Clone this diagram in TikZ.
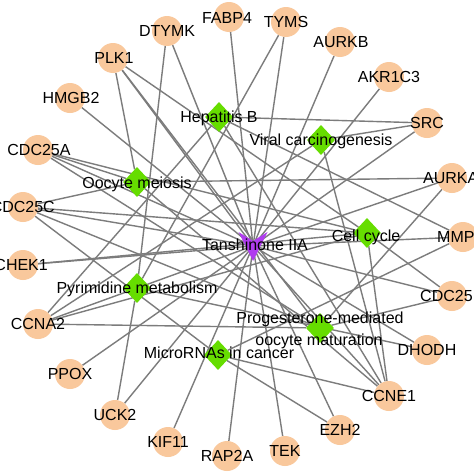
\documentclass[tikz,border=0pt]{standalone}
\usepackage{fontspec}
\setmainfont{Liberation Sans}
\usetikzlibrary{shapes.geometric,backgrounds}
\definecolor{genec}{HTML}{F9C89C}
\definecolor{pathc}{HTML}{66DD00}
\definecolor{drugc}{HTML}{B03CF0}
\definecolor{edgec}{HTML}{7C7C7C}
\begin{document}
\begin{tikzpicture}[x=1pt,y=-1pt,
  genenode/.style={circle,fill=genec,minimum size=30pt,inner sep=0pt},
  pathnode/.style={diamond,fill=pathc,minimum width=28pt,minimum height=30pt,inner sep=0pt},
  lbl/.style={font=\fontsize{16}{20}\selectfont,text=black,inner sep=0pt,anchor=base},
  link/.style={draw=edgec,line width=1.4pt}]
\useasboundingbox (0,0) rectangle (474,474);
% genes
\node[genenode] (dtymk) at (167,31) {};
\node[genenode] (fabp4) at (229,17) {};
\node[genenode] (tyms) at (286,22) {};
\node[genenode] (aurkb) at (340,42) {};
\node[genenode] (akr1c3) at (389,77) {};
\node[genenode] (src) at (427,123) {};
\node[genenode] (aurka) at (452,178) {};
\node[genenode] (mmp) at (463,237) {};
\node[genenode] (cdc25b) at (452,296) {};
\node[genenode] (dhodh) at (427,350) {};
\node[genenode] (ccne1) at (389,396) {};
\node[genenode] (ezh2) at (340,430) {};
\node[genenode] (tek) at (285,451) {};
\node[genenode] (rap2a) at (227,456) {};
\node[genenode] (kif11) at (168,442) {};
\node[genenode] (uck2) at (115,415) {};
\node[genenode] (ppox) at (70,374) {};
\node[genenode] (ccna2) at (38,324) {};
\node[genenode] (chek1) at (23,265) {};
\node[genenode] (cdc25c) at (23,207) {};
\node[genenode] (cdc25a) at (38,150) {};
\node[genenode] (hmgb2) at (70,98) {};
\node[genenode] (plk1) at (113,58) {};
% pathways
\node[pathnode] (hepb) at (219,117) {};
\node[pathnode] (viral) at (321,140) {};
\node[pathnode] (oocyte) at (137,182) {};
\node[pathnode] (cellc) at (367,233) {};
\node[pathnode] (pyrim) at (137,288) {};
\node[pathnode] (proges) at (320,328) {};
\node[pathnode] (mirna) at (218,355) {};
% drug
\coordinate (tan) at (253,246);
\fill[drugc] ([shift={(-14.5,-14)}]tan) -- ([shift={(0,-5)}]tan) -- ([shift={(14.5,-14)}]tan) -- ([shift={(0,15)}]tan) -- cycle;
% edges
\begin{pgfonlayer}{background}
\fill[white] (0,0) rectangle (474,474);
\foreach \g in {dtymk,fabp4,tyms,aurkb,akr1c3,src,aurka,mmp,cdc25b,dhodh,ccne1,ezh2,tek,rap2a,kif11,uck2,ppox,ccna2,chek1,cdc25c,cdc25a,hmgb2,plk1}
  \draw[link] (tan) -- (\g);
\foreach \g in {plk1,cdc25a,cdc25c,chek1,ccna2,ccne1,cdc25b}
  \draw[link] (cellc) -- (\g);
\foreach \g in {plk1,cdc25a,cdc25c,aurka,ccne1}
  \draw[link] (oocyte) -- (\g);
\foreach \g in {plk1,cdc25a,cdc25b,cdc25c,ccna2,aurka}
  \draw[link] (proges) -- (\g);
\foreach \g in {dtymk,tyms,uck2,dhodh}
  \draw[link] (pyrim) -- (\g);
\foreach \g in {src,ccna2,ccne1,mmp}
  \draw[link] (hepb) -- (\g);
\foreach \g in {src,ccna2,ccne1}
  \draw[link] (viral) -- (\g);
\foreach \g in {ezh2,ccne1,cdc25c,mmp}
  \draw[link] (mirna) -- (\g);
\end{pgfonlayer}
% labels
\node[lbl] (l-dtymk) at (167,36.8) {DTYMK};
\node[lbl] (l-fabp4) at (227,23.8) {FABP4};
\node[lbl] (l-tyms) at (286,27.8) {TYMS};
\node[lbl] (l-aurkb) at (341,47.8) {AURKB};
\node[lbl] (l-akr1c3) at (389,82.8) {AKR1C3};
\node[lbl] (l-src) at (427,128.8) {SRC};
\node[lbl,anchor=base west] (l-aurka) at (423,183.8) {AURKA};
\node[lbl,anchor=base west] (l-mmp) at (437,242.8) {MMP};
\node[lbl,anchor=base west] (l-cdc25b) at (420,301.8) {CDC25};
\node[lbl] (l-dhodh) at (427,355.8) {DHODH};
\node[lbl] (l-ccne1) at (389,401.8) {CCNE1};
\node[lbl] (l-ezh2) at (340,435.8) {EZH2};
\node[lbl] (l-tek) at (285,456.8) {TEK};
\node[lbl] (l-rap2a) at (227,461.8) {RAP2A};
\node[lbl] (l-kif11) at (168,447.8) {KIF11};
\node[lbl] (l-uck2) at (115,420.8) {UCK2};
\node[lbl] (l-ppox) at (70,379.8) {PPOX};
\node[lbl] (l-ccna2) at (38,329.8) {CCNA2};
\node[lbl,anchor=base east] (l-chek1) at (48,270.8) {CHEK1};
\node[lbl,anchor=base east] (l-cdc25c) at (55,212.8) {CDC25C};
\node[lbl] (l-cdc25a) at (39,155.8) {CDC25A};
\node[lbl] (l-hmgb2) at (71,103.8) {HMGB2};
\node[lbl] (l-plk1) at (114,63.8) {PLK1};
\node[lbl] (l-hepb) at (219,122.8) {Hepatitis B};
\node[lbl] (l-viral) at (321,145.8) {Viral carcinogenesis};
\node[lbl] (l-oocyte) at (137,188.8) {Oocyte meiosis};
\node[lbl] (l-cellc) at (366,241.8) {Cell cycle};
\node[lbl] (l-pyrim) at (137,293.8) {Pyrimidine metabolism};
\node[lbl] (l-proges1) at (320,323.8) {Progesterone-mediated};
\node[lbl] (l-proges2) at (319,345.8) {oocyte maturation};
\node[lbl] (l-mirna) at (219,358.8) {MicroRNAs in cancer};
\node[lbl] (l-tan) at (255,250.8) {Tanshinone IIA};
\end{tikzpicture}
\end{document}
